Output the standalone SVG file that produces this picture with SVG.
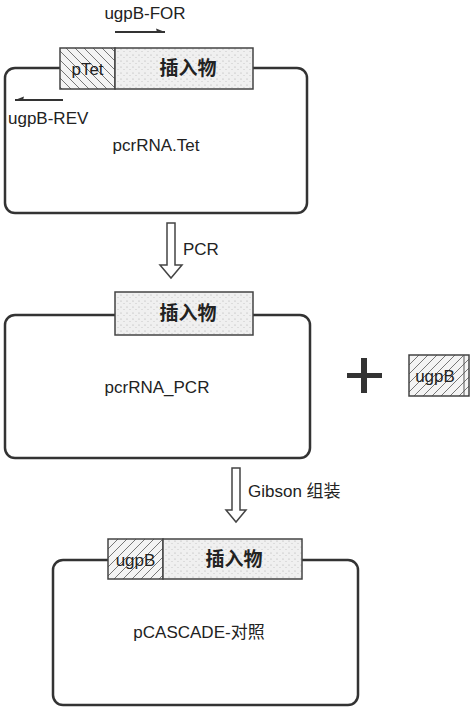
<svg xmlns="http://www.w3.org/2000/svg" width="474" height="711" viewBox="0 0 474 711">
<defs>
<pattern id="stip" width="6" height="6" patternUnits="userSpaceOnUse">
<rect width="6" height="6" fill="#f0f0f0"/>
<circle cx="1" cy="1" r="0.6" fill="#aaa"/>
<circle cx="4" cy="3.5" r="0.5" fill="#bbb"/>
</pattern>
<pattern id="hatchBack" width="9" height="9" patternUnits="userSpaceOnUse">
<rect width="9" height="9" fill="#f4f4f4"/>
<path d="M0,0 L9,9 M-2,7 L2,11 M7,-2 L11,2" stroke="#777" stroke-width="1"/>
</pattern>
<pattern id="hatchFwd" width="9" height="9" patternUnits="userSpaceOnUse">
<rect width="9" height="9" fill="#f4f4f4"/>
<path d="M0,9 L9,0 M-2,2 L2,-2 M7,11 L11,7" stroke="#777" stroke-width="1"/>
</pattern>
</defs>
<style>
.plasmid{fill:none;stroke:#333;stroke-width:2.5}
.blk{stroke:#444;stroke-width:1.5}
.t{font-family:"Liberation Sans","Noto Sans CJK SC",sans-serif;fill:#222;font-size:17px}
.c{font-family:"Noto Sans CJK SC","Liberation Sans",sans-serif;fill:#222;font-size:19px;font-weight:bold}
.hollow{fill:#fff;stroke:#444;stroke-width:1.5}
.prim{stroke:#333;stroke-width:2;fill:none}
</style>
<g id="connectors">
<path class="hollow" d="M167,223 L175,223 L175,265 L182,265 L171,278 L160,265 L167,265 Z"/>
<text class="t" x="183" y="255">PCR</text>
<path class="hollow" d="M232,468 L240,468 L240,510 L246,510 L236,522 L226,510 L232,510 Z"/>
<text class="t" x="248" y="497">Gibson <tspan font-family="Noto Sans CJK SC">组装</tspan></text>
</g>
<g id="pcrRNA_Tet">
<rect class="plasmid" x="5" y="68" width="302" height="145" rx="10"/>
<rect class="blk" x="60" y="48" width="55" height="41" fill="url(#hatchBack)"/>
<rect class="blk" x="115" y="48" width="138" height="41" fill="url(#stip)"/>
<text class="t" x="87.5" y="75" text-anchor="middle">pTet</text>
<text class="c" x="188" y="75" text-anchor="middle">插入物</text>
<text class="t" x="145" y="19" text-anchor="middle">ugpB-FOR</text>
<path class="prim" d="M115,32 L165,32"/>
<path d="M165,32 L156,28.5 L157,32 Z" fill="#333"/>
<path class="prim" d="M15,100 L63,100"/>
<path d="M15,100 L24,96.5 L23,100 Z" fill="#333"/>
<text class="t" x="8" y="124">ugpB-REV</text>
<text class="t" x="156" y="151" text-anchor="middle">pcrRNA.Tet</text>
</g>
<g id="pcrRNA_PCR">
<rect class="plasmid" x="5" y="315" width="305" height="143" rx="10"/>
<rect class="blk" x="115" y="292" width="138" height="43" fill="url(#stip)"/>
<text class="c" x="188" y="320" text-anchor="middle">插入物</text>
<text class="t" x="157" y="393" text-anchor="middle">pcrRNA_PCR</text>
</g>
<g id="plus">
<rect x="347" y="373" width="35" height="5" fill="#333"/>
<rect x="361" y="358" width="6" height="35" fill="#333"/>
</g>
<g id="ugpB_fragment">
<rect class="blk" x="409" y="355" width="60" height="41" fill="url(#hatchFwd)"/>
<line x1="464" y1="355" x2="464" y2="396" stroke="#555" stroke-width="1"/>
<text class="t" x="435" y="382" text-anchor="middle">ugpB</text>
</g>
<g id="pCASCADE">
<rect class="plasmid" x="53" y="560" width="305" height="145" rx="10"/>
<rect class="blk" x="108" y="539" width="55" height="40" fill="url(#hatchFwd)"/>
<rect class="blk" x="163" y="539" width="139" height="40" fill="url(#stip)"/>
<text class="t" x="135.5" y="566" text-anchor="middle">ugpB</text>
<text class="c" x="234" y="566" text-anchor="middle">插入物</text>
<text class="t" x="199" y="638" text-anchor="middle">pCASCADE-<tspan font-family="Noto Sans CJK SC">对照</tspan></text>
</g>
</svg>
